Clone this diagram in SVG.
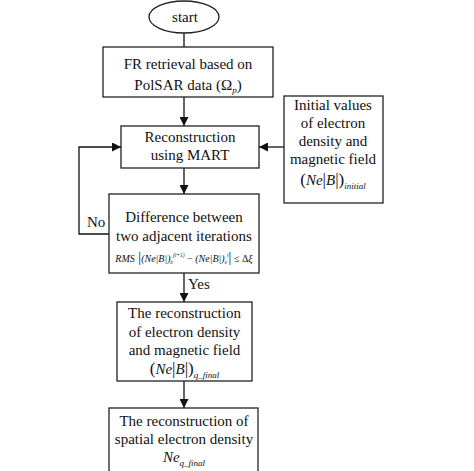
<svg xmlns="http://www.w3.org/2000/svg" width="474" height="471" viewBox="0 0 474 471">
<defs>
<marker id="ah" viewBox="0 0 10 10" refX="10" refY="5" markerWidth="9" markerHeight="9" markerUnits="userSpaceOnUse" orient="auto">
<path d="M0,0 L10,5 L0,10 z" fill="#111"/>
</marker>
<style>
.box{fill:#fff;stroke:#222;stroke-width:1.3}
.t{font-family:"Liberation Serif","Times New Roman",serif;font-size:15px;fill:#111;text-anchor:middle}
.l{font-family:"Liberation Serif","Times New Roman",serif;font-size:15px;fill:#111}
.c{fill:none;stroke:#111;stroke-width:1.3}
.i{font-style:italic}
.s{font-size:9px;font-style:italic}
.p{font-size:17px}
</style>
</defs>
<rect width="474" height="471" fill="#fff"/>
<g id="connectors">
<line class="c" x1="184" y1="33" x2="184" y2="47"/>
<line class="c" x1="184" y1="97" x2="184" y2="126" marker-end="url(#ah)"/>
<line class="c" x1="284" y1="147" x2="259" y2="147" marker-end="url(#ah)"/>
<polyline class="c" points="109,234 79,234 79,147 121,147" marker-end="url(#ah)"/>
<line class="c" x1="184" y1="168" x2="184" y2="194" marker-end="url(#ah)"/>
<line class="c" x1="184" y1="273" x2="184" y2="302" marker-end="url(#ah)"/>
<line class="c" x1="184" y1="381" x2="184" y2="408" marker-end="url(#ah)"/>
<text class="l" x="87" y="227">No</text>
<text class="l" x="188" y="289">Yes</text>
</g>
<g id="start">
<ellipse class="box" cx="184" cy="17" rx="35" ry="16"/>
<text class="t" x="185" y="22">start</text>
</g>
<g id="fr-retrieval">
<rect class="box" x="103" y="47" width="170" height="50"/>
<text class="t" x="188" y="69">FR retrieval based on</text>
<text class="t" x="188" y="90">PolSAR data (Ω<tspan class="s" dy="3">p</tspan><tspan dy="-3">)</tspan></text>
</g>
<g id="reconstruction-mart">
<rect class="box" x="121" y="126" width="138" height="42"/>
<text class="t" x="190" y="142">Reconstruction</text>
<text class="t" x="190" y="160">using MART</text>
</g>
<g id="initial-values">
<rect class="box" x="284" y="96" width="99" height="107"/>
<text class="t" x="333" y="110">Initial values</text>
<text class="t" x="333" y="128">of electron</text>
<text class="t" x="333" y="146">density and</text>
<text class="t" x="333" y="164">magnetic field</text>
<text class="t" x="333" y="185"><tspan class="p">(</tspan><tspan class="i">Ne</tspan><tspan class="p">|</tspan><tspan class="i">B</tspan><tspan class="p">|)</tspan><tspan class="s" dy="4">initial</tspan></text>
</g>
<g id="difference">
<rect class="box" x="109" y="194" width="150" height="79"/>
<text class="t" x="184" y="222">Difference between</text>
<text class="t" x="184" y="241">two adjacent iterations</text>
<text class="t i" x="184" y="262" style="font-size:10px"><tspan>RMS</tspan><tspan font-size="14" font-style="normal"> |</tspan>(Ne|B|)<tspan font-size="5.5" dy="2">e</tspan><tspan font-size="5.5" dy="-7">(i+1)</tspan><tspan dy="5" font-style="normal"> − </tspan>(Ne|B|)<tspan font-size="5.5" dy="2">e</tspan><tspan font-size="5.5" dy="-7">i</tspan><tspan font-size="14" font-style="normal" dy="5">|</tspan><tspan font-style="normal"> ≤ Δ</tspan>ξ</text>
</g>
<g id="reconstruction-final">
<rect class="box" x="117" y="302" width="135" height="79"/>
<text class="t" x="184.5" y="318">The reconstruction</text>
<text class="t" x="184.5" y="337">of electron density</text>
<text class="t" x="184.5" y="355">and magnetic field</text>
<text class="t" x="184.5" y="374"><tspan class="p">(</tspan><tspan class="i">Ne</tspan><tspan class="p">|</tspan><tspan class="i">B</tspan><tspan class="p">|)</tspan><tspan class="s" dy="4">q_final</tspan></text>
</g>
<g id="spatial-density">
<rect class="box" x="109" y="408" width="149" height="70"/>
<text class="t" x="184" y="426">The reconstruction of</text>
<text class="t" x="184" y="444">spatial electron density</text>
<text class="t" x="184" y="462"><tspan class="i">Ne</tspan><tspan class="s" dy="4">q_final</tspan></text>
</g>
</svg>
